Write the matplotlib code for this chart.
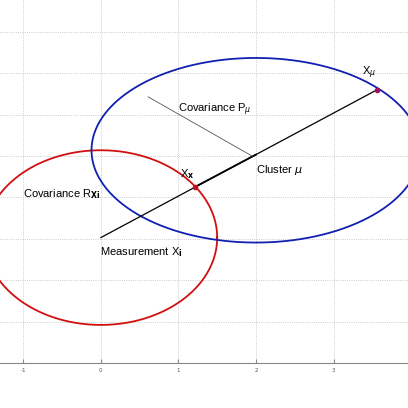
import numpy as np
import matplotlib
matplotlib.use('Agg')
import matplotlib.pyplot as plt

# data (x in axis units, y in grid units)
meas = (0.0, 3.03)
meas_r = (1.5, 2.11)
cluster = (2.0, 5.14)
cluster_r = (2.12, 2.23)
x_mu = (3.56, 6.6)
x_x = (1.21, 4.25)
p_line = [(0.61, 6.43), (1.95, 5.0)]
xticks = [-1, 0, 1, 2, 3]
yticks = [1, 2, 3, 4, 5, 6, 7, 8]

fig = plt.figure(figsize=(4.08, 4.08), dpi=100)
ax = fig.add_axes([0, 45 / 408, 1, 363 / 408])
ax.set_xlim(-1.30, 3.96)
ax.set_ylim(0, 8.77)

t = np.linspace(0, 2 * np.pi, 400)
ax.plot(meas[0] + meas_r[0] * np.cos(t), meas[1] + meas_r[1] * np.sin(t), color='#d01010', lw=1.3)
ax.plot(cluster[0] + cluster_r[0] * np.cos(t), cluster[1] + cluster_r[1] * np.sin(t), color='#1020b0', lw=1.3)

ax.plot([meas[0], x_mu[0]], [meas[1], x_mu[1]], color='black', lw=0.9)
# point on the main line at the cluster x
slope = (x_mu[1] - meas[1]) / (x_mu[0] - meas[0])
ax.plot([x_x[0], cluster[0]], [x_x[1], meas[1] + slope * cluster[0]], color='black', lw=1.3)
ax.plot([p[0] for p in p_line], [p[1] for p in p_line], color='#555555', lw=0.6)
ax.plot(*x_x, 'o', color='#c01020', ms=3)
ax.plot(*x_mu, 'o', color='#a01060', ms=3)

fs = 8
fam = 'Liberation Sans'
ax.text(1.0, 6.05, r'Covariance P$_{\mu}$', fontsize=fs, fontfamily=fam)
ax.text(3.37, 6.95, r'X$_{\mu}$', fontsize=fs, fontfamily=fam)
ax.text(1.02, 4.5, r'X$_{\mathbf{x}}$', fontsize=fs, fontfamily=fam)
ax.text(2.0, 4.6, r'Cluster $\mu$', fontsize=fs, fontfamily=fam)
ax.text(-1.0, 4.0, r'Covariance R$_{\mathbf{Xi}}$', fontsize=fs, fontfamily=fam)
ax.text(-0.01, 2.6, r'Measurement X$_{\mathbf{i}}$', fontsize=fs, fontfamily=fam)

ax.set_xticks(xticks)
ax.set_xticklabels([str(v) for v in xticks], fontsize=4, color='#555555')
ax.set_yticks(yticks)
ax.set_yticklabels([])
ax.grid(True, linestyle=':', color='#bbbbbb', lw=0.6)
ax.tick_params(axis='x', length=3, color='#888888', direction='in')
ax.tick_params(axis='y', length=0)
for s in ['top', 'right', 'left']:
    ax.spines[s].set_visible(False)
ax.spines['bottom'].set_color('#888888')

fig.savefig('out.png', dpi=100)
